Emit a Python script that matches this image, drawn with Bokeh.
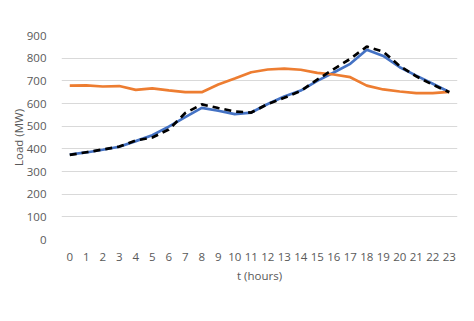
from bokeh.plotting import figure
from bokeh.models import Legend, LegendItem, FixedTicker, Range1d
from bokeh.embed import file_html
from bokeh.resources import INLINE

hours = list(range(24))
tick_labels = [str(h) for h in hours]
lm = [375, 384, 396, 409, 434, 460, 498, 540, 581, 568, 553, 560, 598, 631, 657, 700, 737, 775, 837, 810, 760, 723, 687, 651]
gd = [679, 680, 675, 677, 660, 667, 658, 650, 650, 684, 710, 738, 750, 754, 749, 735, 728, 716, 679, 662, 653, 646, 646, 651]
actual = [373, 385, 397, 410, 437, 450, 485, 558, 596, 580, 565, 560, 598, 625, 655, 705, 752, 797, 851, 829, 765, 720, 683, 650]
y_ticks = [0, 100, 200, 300, 400, 500, 600, 700, 800, 900]
series_names = ["Levenberg-Marquardt", "Gradient descent", "Actual"]

FONT = "Open Sans"
TXT = "#595959"
BLUE, ORANGE = "#4472C4", "#ED7D31"

p = figure(width=474, height=321, frame_width=396, frame_height=204,
           min_border_left=61, min_border_right=17, min_border_top=35, min_border_bottom=0,
           x_range=Range1d(-0.5, 23.5), y_range=Range1d(0, 900),
           output_backend="svg", toolbar_location=None)
p.outline_line_color = None

r1 = p.line(hours, lm, line_color=BLUE, line_width=2.7)
r2 = p.line(hours, gd, line_color=ORANGE, line_width=2.7)
r3 = p.line(hours, actual, line_color="black", line_width=2.7, line_dash="7 5")

p.xgrid.grid_line_color = None
p.ygrid.grid_line_color = "#d9d9d9"
p.ygrid.grid_line_width = 1

p.yaxis.ticker = FixedTicker(ticks=y_ticks)
p.xaxis.ticker = FixedTicker(ticks=hours)
p.xaxis.major_label_overrides = {h: t for h, t in zip(hours, tick_labels)}
for ax in (p.xaxis[0], p.yaxis[0]):
    ax.axis_line_color = None
    ax.major_tick_line_color = None
    ax.minor_tick_line_color = None
    ax.major_label_text_font = FONT
    ax.major_label_text_font_size = "11.5px"
    ax.major_label_text_color = TXT
    ax.axis_label_text_font = FONT
    ax.axis_label_text_font_size = "11.5px"
    ax.axis_label_text_font_style = "normal"
    ax.axis_label_text_color = TXT
p.xaxis.axis_label = "t (hours)"
p.yaxis.axis_label = "Load (MW)"
p.xaxis.major_label_standoff = 7
p.yaxis.major_label_standoff = 9
p.xaxis.axis_label_standoff = 4
p.yaxis.axis_label_standoff = -2

legend = Legend(items=[LegendItem(label=n, renderers=[r]) for n, r in zip(series_names, [r1, r2, r3])],
                orientation="horizontal", location="top_left",
                label_text_font=FONT, label_text_font_size="11.5px", label_text_color=TXT,
                glyph_width=28, label_standoff=3, spacing=20, border_line_color=None,
                background_fill_alpha=0, padding=0, margin=0, label_height=46, glyph_height=46)
p.add_layout(legend, "below")

open("out.html", "w").write(file_html(p, INLINE))
